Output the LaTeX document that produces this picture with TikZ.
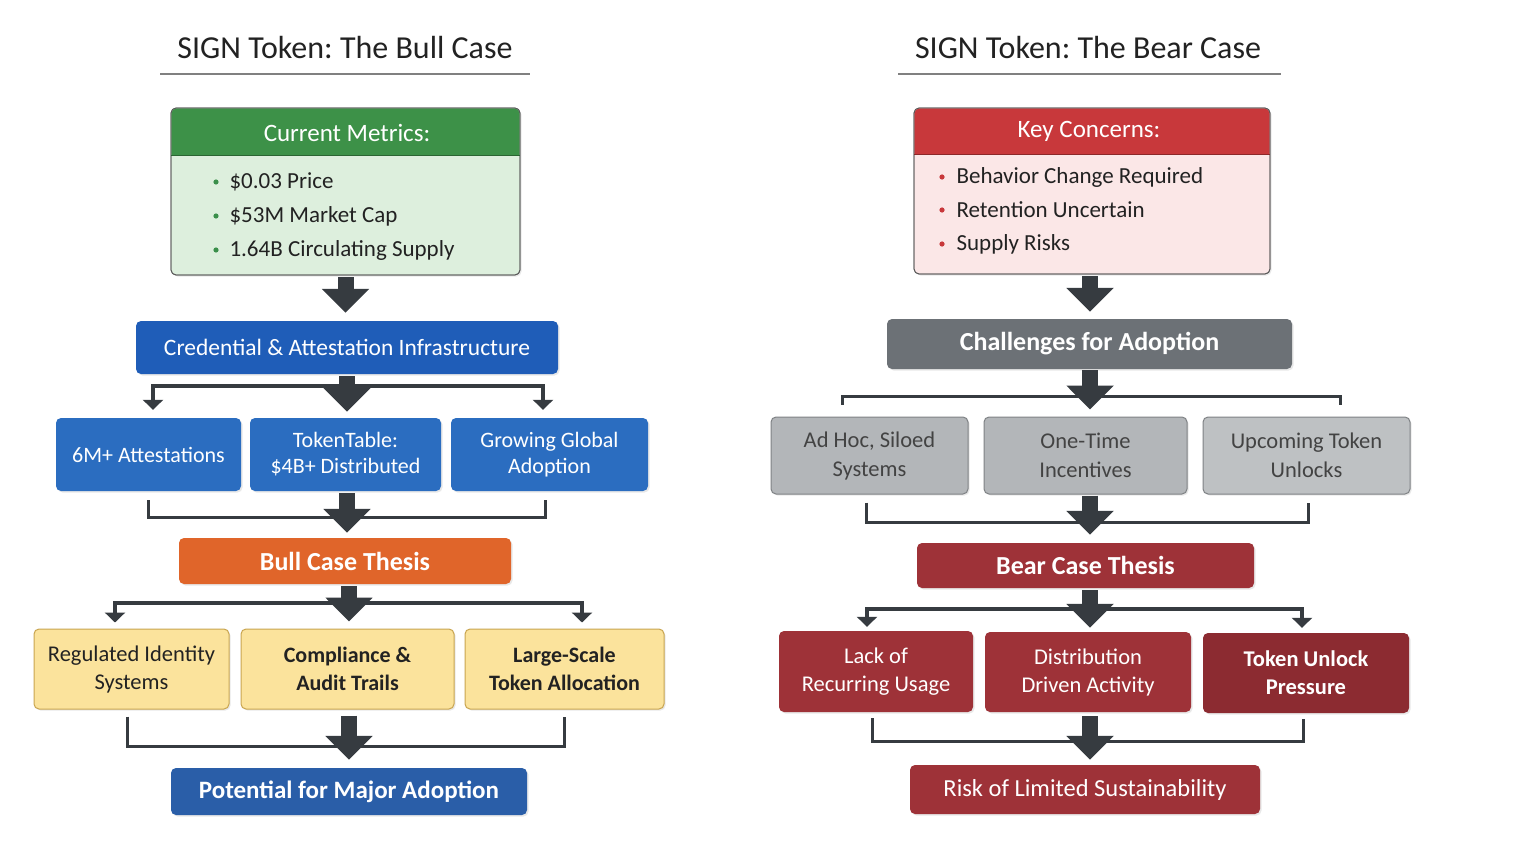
\documentclass[tikz,border=0pt]{standalone}
\usepackage{fontspec}
\setmainfont{Carlito}
\frenchspacing
\usetikzlibrary{arrows.meta,shadows}
\definecolor{ink}{HTML}{222222}
\definecolor{arr}{HTML}{363B40}
\definecolor{ghead}{HTML}{3D9148}
\definecolor{gbody}{HTML}{DDEFDD}
\definecolor{gbul}{HTML}{3A8F4A}
\definecolor{bluea}{HTML}{1F5DB8}
\definecolor{blueb}{HTML}{2B6DC0}
\definecolor{bluec}{HTML}{2A5EA8}
\definecolor{orng}{HTML}{E0652A}
\definecolor{yell}{HTML}{FBE39C}
\definecolor{yellb}{HTML}{C9A550}
\definecolor{rhead}{HTML}{C8383B}
\definecolor{rbody}{HTML}{FBE7E7}
\definecolor{grayd}{HTML}{6C7176}
\definecolor{grayl}{HTML}{B3B6B9}
\definecolor{grayb}{HTML}{7F8285}
\definecolor{dred}{HTML}{9E3238}
\definecolor{dredd}{HTML}{8C2B31}
\tikzset{
  box/.style={rounded corners=5pt, align=center, inner sep=2pt,
    drop shadow={opacity=0.18, shadow xshift=1.5pt, shadow yshift=-1.5pt}},
  wbox/.style={box, text=white, font=\fontsize{22}{26}\selectfont},
  bigarrow/.style={arr, line width=16pt, -{Triangle[width=46pt,length=24pt]}},
  branch/.style={arr, line width=3.5pt, -{Triangle[width=20pt,length=10pt]}},
  mline/.style={arr, line width=3pt},
  ttl/.style={text=ink, font=\fontsize{32}{36}\selectfont},
  btxt/.style={text=ink, anchor=west, font=\fontsize{23}{26}\selectfont},
}
\begin{document}
\begin{tikzpicture}[x=1pt,y=-1pt]
\useasboundingbox (0,0) rectangle (1536,864);
\fill[white] (0,0) rectangle (1536,864);

% ---------- titles ----------
\node[ttl] (tl) at (345,48) {SIGN Token: The Bull Case};
\node[ttl] (tr) at (1088,48) {SIGN Token: The Bear Case};
\coordinate (ul1) at (160,74); \coordinate (ul2) at (530,74);
\coordinate (ur1) at (898,74); \coordinate (ur2) at (1281,74);
\draw[gray, line width=1.4pt] (ul1) -- (ul2);
\draw[gray, line width=1.4pt] (ur1) -- (ur2);

% ---------- LEFT: current metrics ----------
\node[box, draw=gray!70!black, line width=0.8pt, fill=gbody, minimum width=349pt, minimum height=167pt] (metrics) at (345.5,191.5) {};
\fill[ghead, rounded corners=5pt] (171.4,155) -- (171.4,108.4) -- (519.6,108.4) [sharp corners] -- (519.6,155) -- cycle;
\draw[gray!70!black, line width=0.8pt, rounded corners=5pt] (171,108) rectangle (520,275);
\draw[ghead!70!black, line width=0.8pt] (171.4,155) -- (519.6,155);
\node[text=white, font=\fontsize{25}{28}\selectfont] (mhead) at (347,133) {Current Metrics:};
\foreach \yy/\tt [count=\i] in {182/{\$0.03 Price}, 216/{\$53M Market Cap}, 250/{1.64B Circulating Supply}}{
  \fill[gbul] (216,\yy) circle (2.6pt);
  \node[btxt] (m\i) at (226,\yy) {\tt};
}

\node[wbox, fill=bluea, minimum width=422pt, minimum height=53pt, font=\fontsize{23.5}{27}\selectfont] (cred) at (347,347.5) {Credential \& Attestation Infrastructure};
\node[wbox, fill=blueb, minimum width=185pt, minimum height=73pt] (att) at (148.5,454.5) {6M+ Attestations};
\node[wbox, fill=blueb, minimum width=191pt, minimum height=73pt] (tt) at (345.5,454.5) {TokenTable:\\\$4B+ Distributed};
\node[wbox, fill=blueb, minimum width=197pt, minimum height=73pt] (glob) at (549.5,454.5) {Growing Global\\Adoption};
\node[wbox, fill=orng, minimum width=332pt, minimum height=46pt, font=\bfseries\fontsize{26}{28}\selectfont] (bull) at (345,561) {Bull Case Thesis};
\node[box, fill=yell, draw=yellb, line width=1pt, text=ink, font=\fontsize{22.5}{28}\selectfont, minimum width=195pt, minimum height=80pt] (reg) at (131.5,669) {Regulated Identity\\Systems};
\node[box, fill=yell, draw=yellb, line width=1pt, text=ink, font=\bfseries\fontsize{22}{28}\selectfont, minimum width=213pt, minimum height=80pt] (comp) at (347.5,669) {Compliance \&\\Audit Trails};
\node[box, fill=yell, draw=yellb, line width=1pt, text=ink, font=\bfseries\fontsize{22}{28}\selectfont, minimum width=199pt, minimum height=80pt] (large) at (564.5,669) {Large-Scale\\Token Allocation};
\node[wbox, fill=bluec, minimum width=356pt, minimum height=47pt, font=\bfseries\fontsize{25}{28}\selectfont] (pot) at (349,791.5) {Potential for Major Adoption};

% left connectors
\draw[bigarrow, shorten <=2pt, shorten >=8pt] (metrics.south) -- (metrics.south |- cred.north);
\coordinate (cb) at (347,386);
\draw[branch, shorten >=8pt] (cb) -| ([xshift=4.5pt]att.north);
\draw[branch, shorten >=8pt] (cb) -| ([xshift=-6.5pt]glob.north);
\draw[bigarrow, shorten <=2pt, shorten >=6pt] (cred.south) -- (cred.south |- tt.north);

\draw[mline] ([yshift=-9pt]att.south) -- ++(0,17) -| ([xshift=-4.5pt,yshift=-9pt]glob.south);
\draw[bigarrow, shorten <=2pt, shorten >=5pt] ([xshift=1.5pt]tt.south) -- ([xshift=1.5pt]tt.south |- bull.north);

\coordinate (bb) at (349,603);
\draw[branch, shorten >=6pt] (bb) -| ([xshift=-16.5pt]reg.north);
\draw[branch, shorten >=6pt] (bb) -| ([xshift=17.5pt]large.north);
\draw[bigarrow, shorten <=2pt, shorten >=7pt] ([xshift=4pt]bull.south) -- ([xshift=4pt]bull.south |- comp.north);

\draw[mline] ([xshift=-4.5pt,yshift=-7pt]reg.south) -- ++(0,30) -| ([xshift=-0.5pt,yshift=-7pt]large.south);
\draw[bigarrow, shorten <=6pt, shorten >=8pt] ([xshift=1.5pt]comp.south) -- ([xshift=1.5pt]comp.south |- pot.north);

% ---------- RIGHT: key concerns ----------
\node[box, draw=gray!70!black, line width=0.8pt, fill=rbody, minimum width=356pt, minimum height=166pt] (key) at (1092,191) {};
\fill[rhead, rounded corners=5pt] (914.4,154) -- (914.4,108.4) -- (1269.6,108.4) [sharp corners] -- (1269.6,154) -- cycle;
\draw[gray!70!black, line width=0.8pt, rounded corners=5pt] (914,108) rectangle (1270,274);
\draw[rhead!70!black, line width=0.8pt] (914.4,154) -- (1269.6,154);
\node[text=white, font=\fontsize{25}{28}\selectfont] (khead) at (1089,131) {Key Concerns:};
\foreach \yy/\tt [count=\i] in {177/{Behavior Change Required}, 210/{Retention Uncertain}, 244/{Supply Risks}}{
  \fill[rhead] (942,\yy) circle (2.6pt);
  \node[btxt] (k\i) at (953,\yy) {\tt};
}

\node[wbox, fill=grayd, minimum width=405pt, minimum height=50pt, font=\bfseries\fontsize{26}{28}\selectfont] (chal) at (1089.5,344) {Challenges for Adoption};
\node[box, fill=grayl, draw=grayb, line width=1pt, text=ink!85, font=\fontsize{22.5}{29}\selectfont, minimum width=197pt, minimum height=77pt] (adhoc) at (869.5,455.5) {Ad Hoc, Siloed\\Systems};
\node[box, fill=grayl, draw=grayb, line width=1pt, text=ink!85, font=\fontsize{22.5}{29}\selectfont, minimum width=203pt, minimum height=77pt] (onetime) at (1085.5,455.5) {One-Time\\Incentives};
\node[box, fill=grayl!85!white, draw=grayb, line width=1pt, text=ink!85, font=\fontsize{22.5}{29}\selectfont, minimum width=207pt, minimum height=77pt] (unlock) at (1306.5,455.5) {Upcoming Token\\Unlocks};
\node[wbox, fill=dred, minimum width=337pt, minimum height=45pt, font=\bfseries\fontsize{26}{28}\selectfont] (bear) at (1085.5,565.5) {Bear Case Thesis};
\node[wbox, fill=dred, minimum width=194pt, minimum height=81pt, font=\fontsize{22.5}{28}\selectfont] (lack) at (876,671.5) {Lack of\\Recurring Usage};
\node[wbox, fill=dred, minimum width=206pt, minimum height=80pt, font=\fontsize{22.5}{28}\selectfont] (dist) at (1088,672) {Distribution\\Driven Activity};
\node[wbox, fill=dredd, minimum width=206pt, minimum height=80pt, font=\bfseries\fontsize{22.5}{28}\selectfont] (tup) at (1306,673) {Token Unlock\\Pressure};
\node[wbox, fill=dred, minimum width=350pt, minimum height=49pt, font=\fontsize{24.5}{28}\selectfont] (risk) at (1085,789.5) {Risk of Limited Sustainability};

% right connectors
\draw[bigarrow, shorten <=2pt, shorten >=7pt] ([xshift=-2pt]key.south) -- ([xshift=-2pt]key.south |- chal.north);
\draw[mline] ([xshift=-27.5pt,yshift=12pt]adhoc.north) -- ++(0,-8) -| ([xshift=33.5pt,yshift=12pt]unlock.north);
\draw[bigarrow, shorten <=1pt, shorten >=7pt] ([xshift=0.5pt]chal.south) -- ([xshift=0.5pt]chal.south |- onetime.north);

\draw[mline] ([xshift=-3.5pt,yshift=-8pt]adhoc.south) -- ++(0,20) -| ([xshift=1.5pt,yshift=-8pt]unlock.south);
\draw[bigarrow, shorten <=1pt, shorten >=8pt] ([xshift=4.5pt]onetime.south) -- ([xshift=4.5pt]onetime.south |- bear.north);

\coordinate (rb) at (1090,609);
\draw[branch, shorten >=4pt] (rb) -| ([xshift=-9pt]lack.north);
\draw[branch, shorten >=5pt] (rb) -| ([xshift=-4pt]tup.north);
\draw[bigarrow, shorten <=2pt, shorten >=4pt] ([xshift=4.5pt]bear.south) -- ([xshift=4.5pt]bear.south |- dist.north);

\draw[mline] ([xshift=-4pt,yshift=-6pt]lack.south) -- ++(0,23) -| ([xshift=-3pt,yshift=-6pt]tup.south);
\draw[bigarrow, shorten <=4pt, shorten >=5pt] ([xshift=2pt]dist.south) -- ([xshift=2pt]dist.south |- risk.north);
\end{tikzpicture}
\end{document}
